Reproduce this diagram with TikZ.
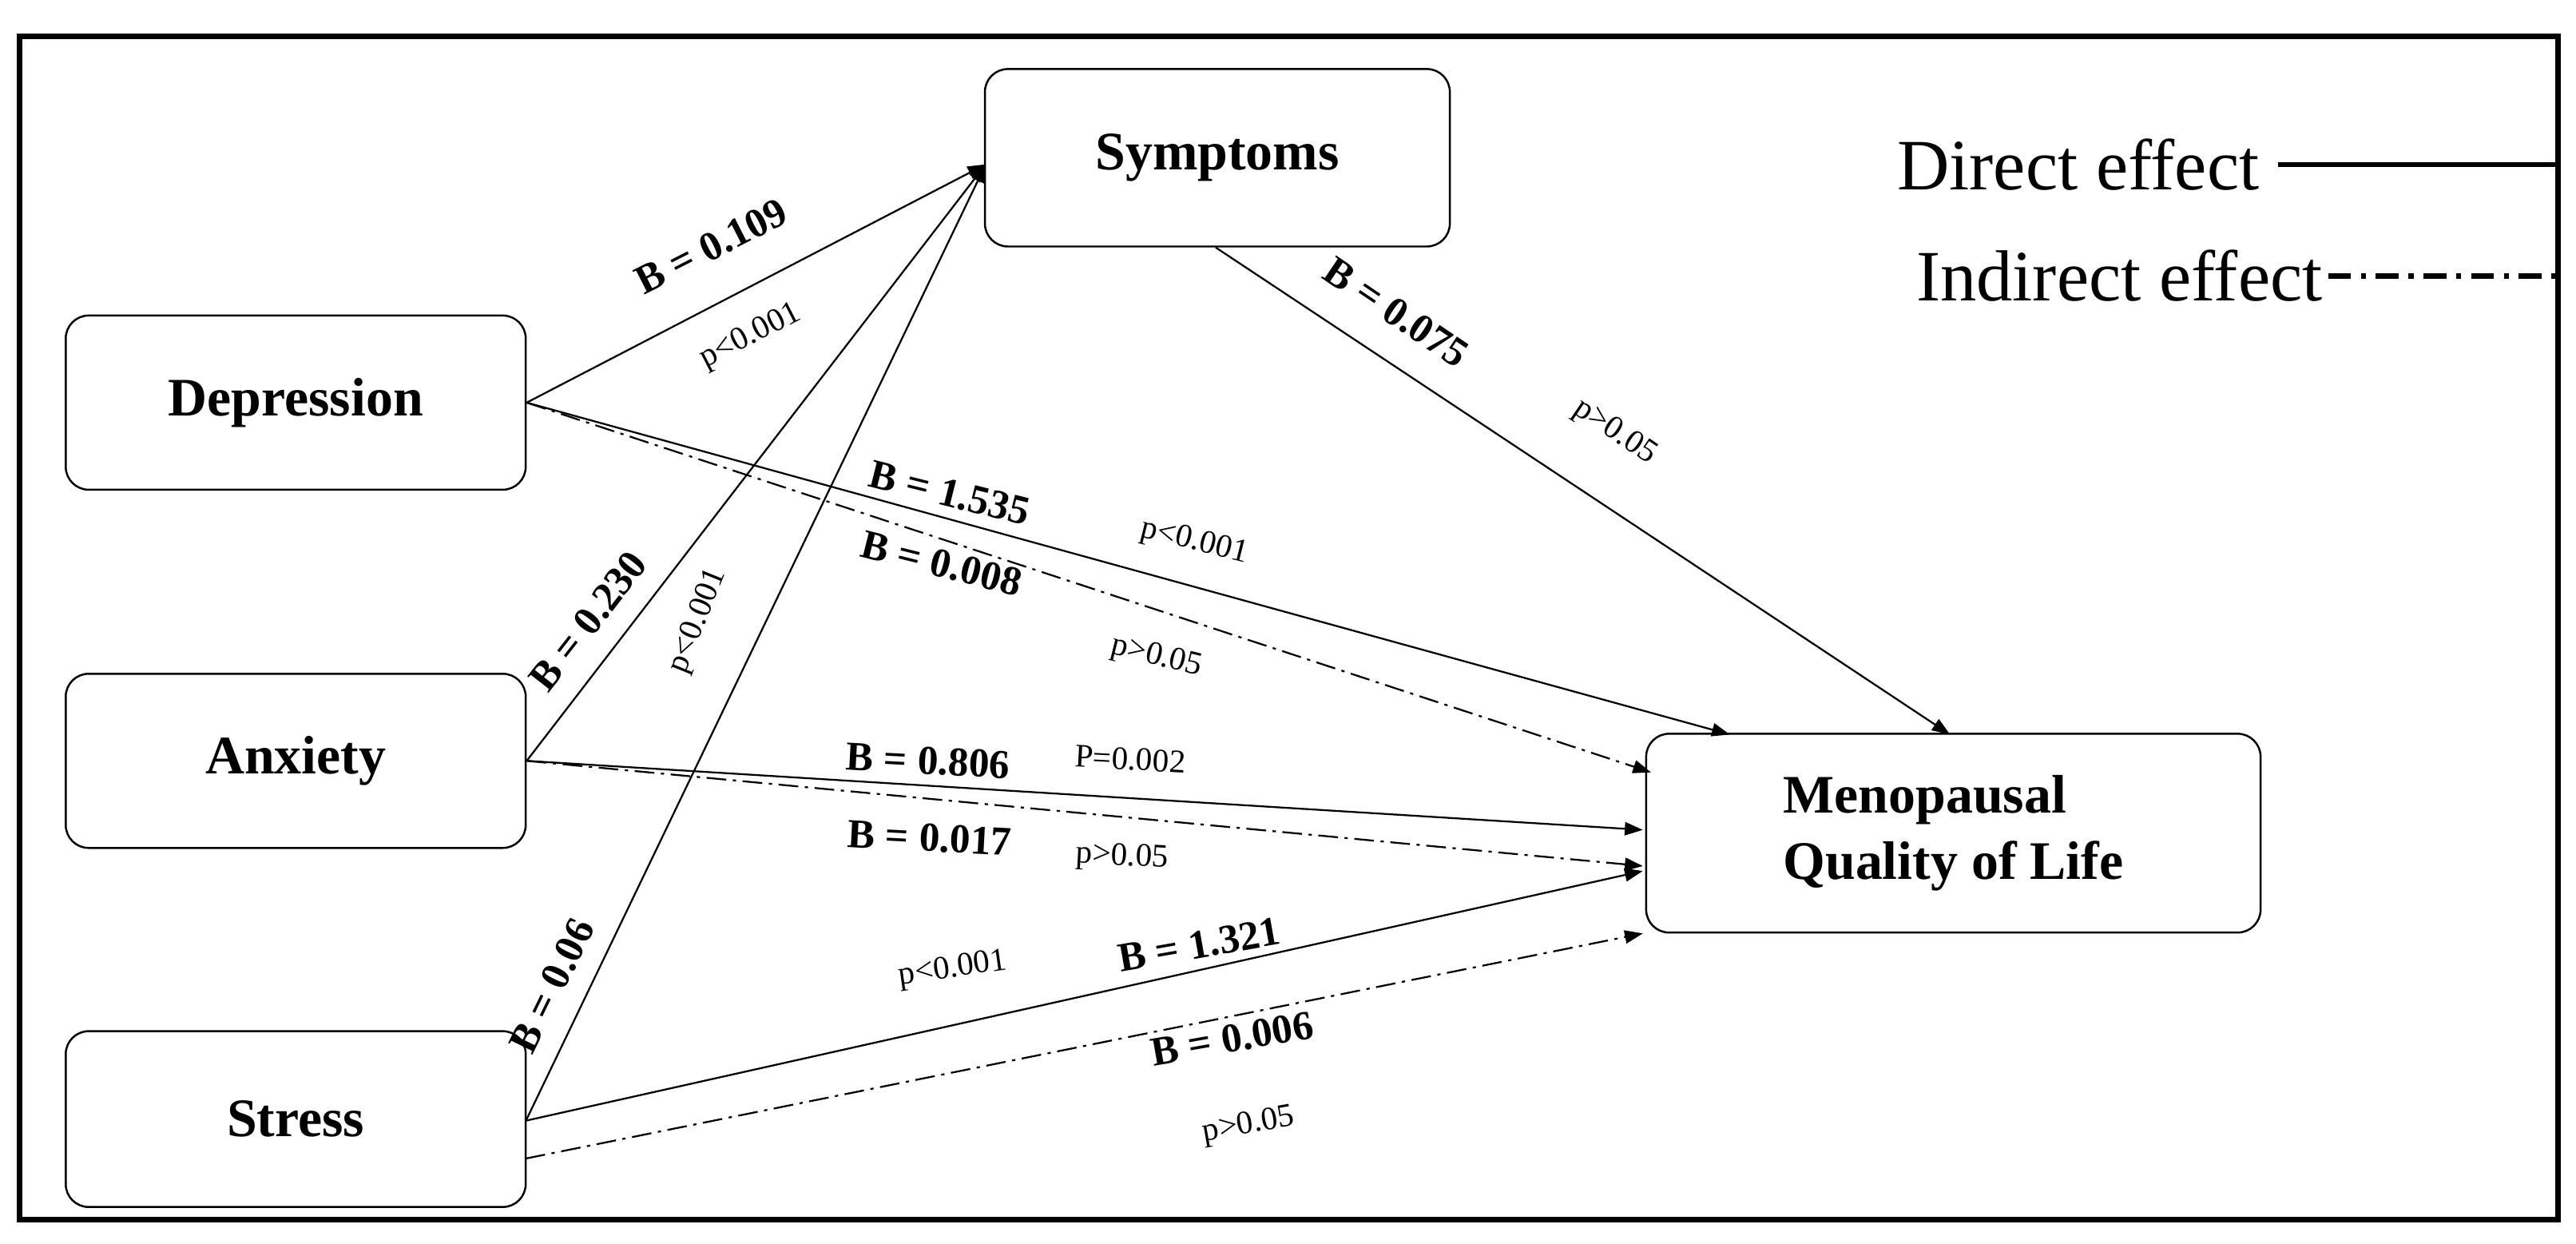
\documentclass[tikz,border=0pt]{standalone}
\usepackage{fontspec}
\setmainfont{Liberation Serif}
\usetikzlibrary{arrows.meta}
\begin{document}
\begin{tikzpicture}[x=1pt,y=-1pt,
 box/.style={draw,rounded corners=14pt,line width=1.2pt,font=\fontsize{33}{40}\selectfont\bfseries,align=left},
 ar/.style={line width=1.1pt,-{Triangle[length=11pt,width=8pt]}},
 dd/.style={ar,dash pattern=on 12pt off 4pt on 2pt off 4pt},
 bl/.style={font=\fontsize{25}{27}\selectfont\bfseries},
 pl/.style={font=\fontsize{20}{22}\selectfont}]
\useasboundingbox (0,0) rectangle (1568,757);
\draw[line width=3.5pt] (12,22) rectangle (1557,742);
\node[box,minimum width=280pt,minimum height=106pt] (dep) at (180,245) {Depression};
\node[box,minimum width=280pt,minimum height=106pt] (anx) at (180,463) {Anxiety};
\node[box,minimum width=280pt,minimum height=107pt] (str) at (180,681) {Stress};
\node[box,minimum width=283pt,minimum height=108pt] (sym) at (741,96) {Symptoms};
\node[box,minimum width=374pt,minimum height=121pt] (mq) at (1189,507) {Menopausal\\Quality of Life};
\coordinate (s1) at (600,100);
\draw[ar] (dep.east) -- (s1);
\draw[ar] (anx.east) -- (s1);
\draw[ar] (str.east) -- (s1);
\draw[ar] ([xshift=-1pt]sym.south) -- (1187,447) coordinate (m1);
\draw[ar] (dep.east) -- (1053,447) coordinate (m2);
\draw[dd] (dep.east) -- (1005,470) coordinate (m3);
\draw[ar] (anx.east) -- (1000,505) coordinate (m4);
\draw[dd] (anx.east) -- (1000,527) coordinate (m5);
\draw[ar] (320,682) -- (1000,530) coordinate (m6);
\draw[dd] (320,705) -- (1000,568) coordinate (m7);
\node[bl,rotate=27] (l1) at (433,150) {B = 0.109};
\node[pl,rotate=27] (l2) at (457,205) {p<0.001};
\node[bl,rotate=52] (l3) at (358,378) {B = 0.230};
\node[pl,rotate=68] (l4) at (425,378) {p<0.001};
\node[bl,rotate=64] (l5) at (336,600) {B = 0.06};
\node[bl,rotate=-34] (l6) at (850,190) {B = 0.075};
\node[pl,rotate=-34] (l7) at (983,263) {p>0.05};
\node[bl,rotate=-14] (l8) at (578,300) {B = 1.535};
\node[pl,rotate=-14] (l9) at (727,330) {p<0.001};
\node[bl,rotate=-14] (l10) at (573,343) {B = 0.008};
\node[pl,rotate=-14] (l11) at (704,400) {p>0.05};
\node[bl,rotate=-3] (l12) at (565,463) {B = 0.806};
\node[pl,rotate=-3] (l13) at (688,462) {P=0.002};
\node[bl,rotate=-3] (l14) at (566,510) {B = 0.017};
\node[pl,rotate=-3] (l15) at (683,522) {p>0.05};
\node[pl,rotate=8] (l16) at (580,590) {p<0.001};
\node[bl,rotate=10] (l17) at (730,575) {B = 1.321};
\node[bl,rotate=10] (l18) at (750,632) {B = 0.006};
\node[pl,rotate=10] (l19) at (760,685) {p>0.05};
\node[font=\fontsize{44}{46}\selectfont] (lg1) at (1265,100) {Direct effect};
\node[font=\fontsize{44}{46}\selectfont] (lg2) at (1290,168) {Indirect effect};
\coordinate (e1) at (1557,100);
\coordinate (e2) at (1557,168);
\draw[line width=3pt] ([xshift=8pt]lg1.east) -- (e1);
\draw[line width=3pt,dash pattern=on 14pt off 6pt on 3pt off 6pt] (lg2.east) -- (e2);
\end{tikzpicture}
\end{document}
